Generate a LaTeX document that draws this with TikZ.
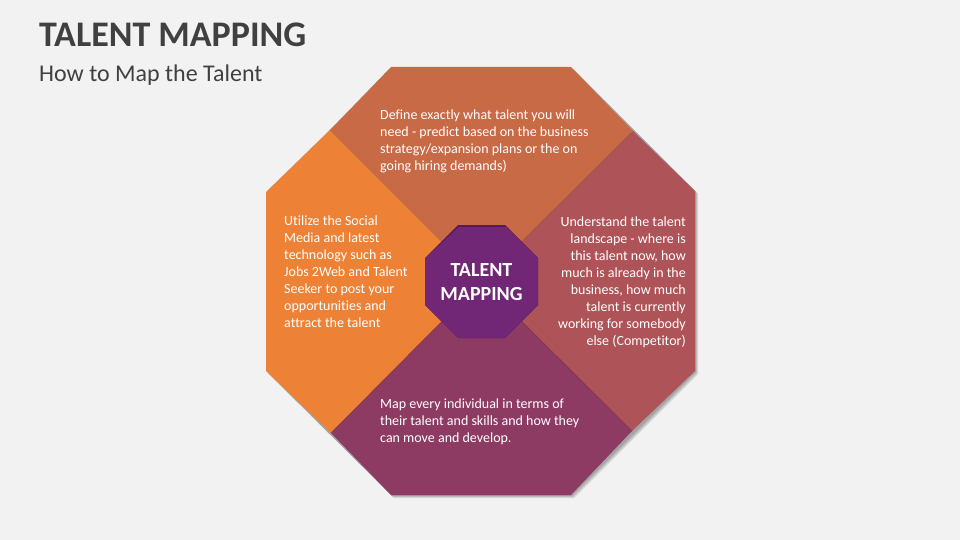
\documentclass[tikz,border=0pt]{standalone}
\usepackage{fontspec}
\setmainfont[Ligatures=CommonOff]{Carlito}
\definecolor{bgc}{HTML}{F2F2F2}
\definecolor{topc}{HTML}{C96A46}
\definecolor{leftc}{HTML}{ED8237}
\definecolor{rightc}{HTML}{AE5357}
\definecolor{botc}{HTML}{8E3B64}
\definecolor{midc}{HTML}{722676}
\definecolor{middark}{HTML}{571B5C}
\definecolor{titlec}{HTML}{404040}
\tikzset{
  body/.style={text=white,font=\fontsize{14}{17}\selectfont,inner sep=0pt},
  heading/.style={text=titlec,inner sep=0pt,anchor=base west},
  soft/.style={black,opacity=0.09}
}
\begin{document}
\begin{tikzpicture}[x=1pt,y=-1pt]
\useasboundingbox (0,0) rectangle (960,540);
\fill[bgc] (0,0) rectangle (960,540);
% outer soft shadow
\foreach \d in {1,2,3,4}{
  \fill[soft,shift={(\d*0.8,\d*0.8)}] (391,67)--(571,67)--(695,191)--(695,371)--(571,495)--(391,495)--(266,371)--(266,191)--cycle;
}
% sectors
\fill[topc] (391,67)--(571,67)--(633,131)--(481.5,281.5)--(330,130)--cycle;
\fill[leftc] (330,130)--(481.5,281.5)--(331,433)--(266,371)--(266,192)--cycle;
\fill[rightc] (633,131)--(695,191)--(695,371)--(632,431)--(481.5,281.5)--cycle;
\fill[botc] (331,433)--(481.5,281.5)--(632,431)--(571,495)--(391,495)--cycle;
% seams
\draw[topc!70!black,opacity=0.35,line width=0.7] (330,130)--(481.5,281.5);
\draw[topc!70!black,opacity=0.35,line width=0.7] (633,131)--(481.5,281.5);
\draw[botc!70!black,opacity=0.5,line width=0.7] (331,433)--(481.5,281.5);
\draw[botc!70!black,opacity=0.5,line width=0.7] (632,431)--(481.5,281.5);
% centre octagon with inner shadow
\fill[middark] (458,225)--(505,225)--(538,258)--(538,305)--(505,338)--(458,338)--(425,305)--(425,258)--cycle;
\begin{scope}
\clip (458,225)--(505,225)--(538,258)--(538,305)--(505,338)--(458,338)--(425,305)--(425,258)--cycle;
\fill[midc] (459,227)--(506,227)--(540,260)--(540,307)--(506,340)--(457,340)--(424,307)--(424,259.5)--cycle;
\end{scope}
% text
\node[heading,font=\fontsize{36}{40}\selectfont\bfseries] (title) at (39,46.5) {TALENT MAPPING};
\node[heading,font=\fontsize{24}{28}\selectfont] (subtitle) at (39,82) {How to Map the Talent};
\node[body,align=left,anchor=north west] (topt) at (380,109.5) {Define exactly what talent you will\\need - predict based on the business\\strategy/expansion plans or the on\\going hiring demands)};
\node[body,align=left,anchor=north west] (leftt) at (284,216) {Utilize the Social\\Media and latest\\technology such as\\Jobs 2Web and Talent\\Seeker to post your\\opportunities and\\attract the talent};
\node[body,align=right,anchor=north east] (rightt) at (686,216.5) {Understand the talent\\landscape - where is\\this talent now, how\\much is already in the\\business, how much\\talent is currently\\working for somebody\\else (Competitor)};
\node[body,align=left,anchor=north west] (bott) at (380,398.5) {Map every individual in terms of\\their talent and skills and how they\\can move and develop.};
\node[text=white,align=center,inner sep=0pt,font=\fontsize{20}{24}\selectfont\bfseries] (centre) at (481.5,282) {TALENT\\MAPPING};
\end{tikzpicture}
\end{document}
